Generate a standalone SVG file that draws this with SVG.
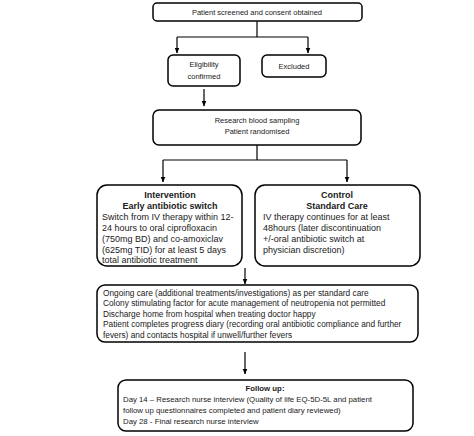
<svg xmlns="http://www.w3.org/2000/svg" width="474" height="436" viewBox="0 0 474 436">
<style>
.box{fill:#fff;stroke:#000;stroke-width:1.5}
.ln{fill:none;stroke:#000;stroke-width:1.2}
text{font-family:"Liberation Sans",Arial,sans-serif;font-size:7.5px;fill:#1a1a1a}
.c{text-anchor:middle}
.b{font-weight:bold}
.m{font-size:8.3px}
.f{font-size:7.8px}
.l{font-size:9px}
</style>
<defs>
<marker id="ah" viewBox="0 0 10 10" refX="9" refY="5" markerWidth="5" markerHeight="5" orient="auto">
<path d="M0,1 L10,5 L0,9 z" fill="#000"/>
</marker>
</defs>
<rect width="474" height="436" fill="#fff"/>
<g id="connectors">
<path class="ln" d="M257,21 V37 M177,37 H308"/>
<path class="ln" d="M177,37 V53" marker-end="url(#ah)"/>
<path class="ln" d="M308,37 V53" marker-end="url(#ah)"/>
<path class="ln" d="M204,89 V106" marker-end="url(#ah)"/>
<path class="ln" d="M257,145 V160 M163,160 H347"/>
<path class="ln" d="M163,160 V182" marker-end="url(#ah)"/>
<path class="ln" d="M347,160 V182" marker-end="url(#ah)"/>
<path class="ln" d="M245,268 V284" marker-end="url(#ah)"/>
<path class="ln" d="M245,352 V374" marker-end="url(#ah)"/>
</g>
<g id="screened">
<rect class="box" x="153" y="3" width="209" height="18" rx="4"/>
<text class="c" x="257" y="14.5">Patient screened and consent obtained</text>
</g>
<g id="eligibility">
<rect class="box" x="168" y="55" width="72" height="31" rx="5"/>
<text class="c" x="204" y="67">Eligibility</text>
<text class="c" x="204" y="79">confirmed</text>
</g>
<g id="excluded">
<rect class="box" x="262" y="55" width="64" height="22" rx="5"/>
<text class="c" x="294" y="68.5">Excluded</text>
</g>
<g id="randomised">
<rect class="box" x="153" y="110" width="208" height="35" rx="6"/>
<text class="c" x="257" y="123">Research blood sampling</text>
<text class="c" x="257" y="134">Patient randomised</text>
</g>
<g id="intervention">
<rect class="box" x="97" y="185" width="145" height="81" rx="10"/>
<text class="c b l" x="170" y="198">Intervention</text>
<text class="c b l" x="170" y="208.5">Early antibiotic switch</text>
<text class="l" x="102" y="219.5">Switch from IV therapy within 12-</text>
<text class="l" x="102" y="230.5">24 hours to oral ciprofloxacin</text>
<text class="l" x="102" y="241.5">(750mg BD) and co-amoxiclav</text>
<text class="l" x="102" y="252.5">(625mg TID) for at least 5 days</text>
<text class="l" x="102" y="263">total antibiotic treatment</text>
</g>
<g id="control">
<rect class="box" x="255" y="185" width="165" height="81" rx="10"/>
<text class="c b l" x="337" y="198">Control</text>
<text class="c b l" x="337" y="208.5">Standard Care</text>
<text class="l" x="263" y="219.5">IV therapy continues for at least</text>
<text class="l" x="263" y="230.5">48hours (later discontinuation</text>
<text class="l" x="263" y="241.5">+/-oral antibiotic switch at</text>
<text class="l" x="263" y="252.5">physician discretion)</text>
</g>
<g id="ongoing">
<rect class="box" x="97" y="285" width="321" height="57" rx="8"/>
<text class="m" x="103" y="295.5">Ongoing care (additional treatments/investigations) as per standard care</text>
<text class="m" x="103" y="306">Colony stimulating factor for acute management of neutropenia not permitted</text>
<text class="m" x="103" y="316.5">Discharge home from hospital when treating doctor happy</text>
<text class="m" x="103" y="327">Patient completes progress diary (recording oral antibiotic compliance and further</text>
<text class="m" x="103" y="337.5">fevers) and contacts hospital if unwell/further fevers</text>
</g>
<g id="followup">
<rect class="box" x="118" y="380" width="295" height="51" rx="8"/>
<text class="c b f" x="265" y="391">Follow up:</text>
<text class="f" x="123" y="402">Day 14 – Research nurse interview (Quality of life EQ-5D-5L and patient</text>
<text class="f" x="123" y="413">follow up questionnaires completed and patient diary reviewed)</text>
<text class="f" x="123" y="424">Day 28 - Final research nurse interview</text>
</g>
</svg>
